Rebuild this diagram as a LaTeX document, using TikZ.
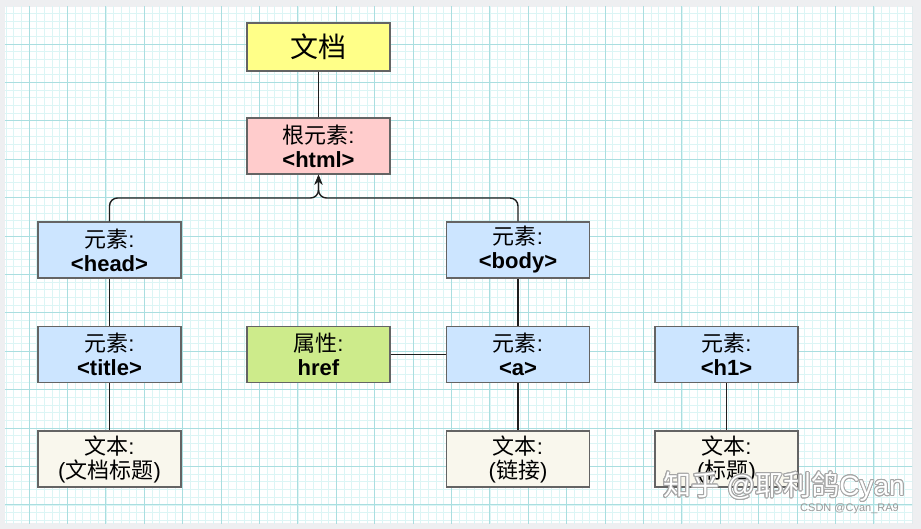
\documentclass[tikz,border=0pt]{standalone}
\usepackage{fontspec}
\setmainfont{Liberation Sans}
\newfontfamily\cjk{Noto Sans CJK SC}
\usepackage[copies]{contour}
\usetikzlibrary{arrows.meta}

\definecolor{pagegray}{RGB}{238,239,241}
\definecolor{gridminor}{RGB}{220,245,245}
\definecolor{gridmajor}{RGB}{170,222,224}
\definecolor{docyellow}{RGB}{255,255,136}
\definecolor{rootpink}{RGB}{255,204,204}
\definecolor{elemblue}{RGB}{204,229,255}
\definecolor{attrgreen}{RGB}{205,235,139}
\definecolor{textcream}{RGB}{249,247,237}
\definecolor{boxline}{RGB}{100,100,100}
\definecolor{edgeline}{RGB}{30,30,30}

\tikzset{
  Box/.style = {rectangle, draw=boxline, line width=1.3pt, minimum width=143pt,
                minimum height=56pt, inner sep=0pt, align=center,
                font=\fontsize{22}{24}\selectfont},
  Edge/.style = {draw=edgeline, line width=1.4pt},
}

\begin{document}
\begin{tikzpicture}[x=1pt, y=-1pt]
    \useasboundingbox (0,0) rectangle (921,529);
    \fill[pagegray] (0,0) rectangle (921,529);
    \fill[white] (5,7) rectangle (912,523);

    % grid
    \begin{scope}
      \clip (5,7) rectangle (912,523);
      \foreach \i in {0,...,121}
        \draw[gridminor, line width=0.6pt] ({-9.4+7.68*\i},0) -- ({-9.4+7.68*\i},529);
      \foreach \i in {0,...,70}
        \draw[gridminor, line width=0.6pt] (0,{5.6+7.68*\i}) -- (921,{5.6+7.68*\i});
      \foreach \i in {0,...,24}
        \draw[gridmajor, line width=0.8pt] ({-9.4+38.4*\i},0) -- ({-9.4+38.4*\i},529);
      \foreach \i in {0,...,14}
        \draw[gridmajor, line width=0.8pt] (0,{5.6+38.4*\i}) -- (921,{5.6+38.4*\i});
    \end{scope}

    \node[Box, fill=docyellow, minimum height=48pt, font=\fontsize{28}{30}\selectfont]
      (Doc) at (318.5,47) {\cjk 文档};
    \node[Box, fill=rootpink] (Html) at (318.5,146) {{\cjk 根元素}:\\\textbf{<html>}};

    \node[Box, fill=elemblue] (Head) at (109.5,250) {{\cjk 元素}:\\\textbf{<head>}};
    \node[Box, fill=elemblue] (Body) at (518,250) {{\cjk 元素}:\\\textbf{<body>}};

    \node[Box, fill=elemblue] (Title) at (109.5,354.5) {{\cjk 元素}:\\\textbf{<title>}};
    \node[Box, fill=attrgreen] (Href) at (318.5,354.5) {{\cjk 属性}:\\\textbf{href}};
    \node[Box, fill=elemblue] (A) at (518,354.5) {{\cjk 元素}:\\\textbf{<a>}};
    \node[Box, fill=elemblue] (H1) at (726.5,354.5) {{\cjk 元素}:\\\textbf{<h1>}};

    \node[Box, fill=textcream] (TitleText) at (109.5,459) {{\cjk 文本}:\\({\cjk 文档标题})};
    \node[Box, fill=textcream] (AText) at (518,459) {{\cjk 文本}:\\({\cjk 链接})};
    \node[Box, fill=textcream] (H1Text) at (726.5,459) {{\cjk 文本}:\\({\cjk 标题})};

    \coordinate (Fork) at (318.5,198);

    \draw[Edge] (Doc) -- (Html);
    \draw[Edge, rounded corners=8pt, -{Stealth[length=10pt,width=8pt]}] (Head.north) |- (Fork) -- (Html.south);
    \draw[Edge, rounded corners=8pt, -{Stealth[length=10pt,width=8pt]}] (Body.north) |- (Fork) -- (Html.south);
    \draw[Edge] (Head) -- (Title);
    \draw[Edge] (Title) -- (TitleText);
    \draw[Edge] (Body) -- (A);
    \draw[Edge] (Href) -- (A);
    \draw[Edge] (A) -- (AText);
    \draw[Edge] (H1) -- (H1Text);

    % watermark
    \node[anchor=west, inner sep=0pt, font=\fontsize{28}{30}\selectfont] (Mark) at (663,487)
      {\contourlength{0.8pt}\contour{gray!70}{\textcolor{white}{{\cjk 知乎} @{\cjk 耶利鸽}Cyan}}};
    \node[anchor=east, inner sep=0pt, text=gray!80, font=\fontsize{11}{12}\selectfont] (Csdn) at (899,509) {CSDN @Cyan\_RA9};
\end{tikzpicture}
\end{document}
